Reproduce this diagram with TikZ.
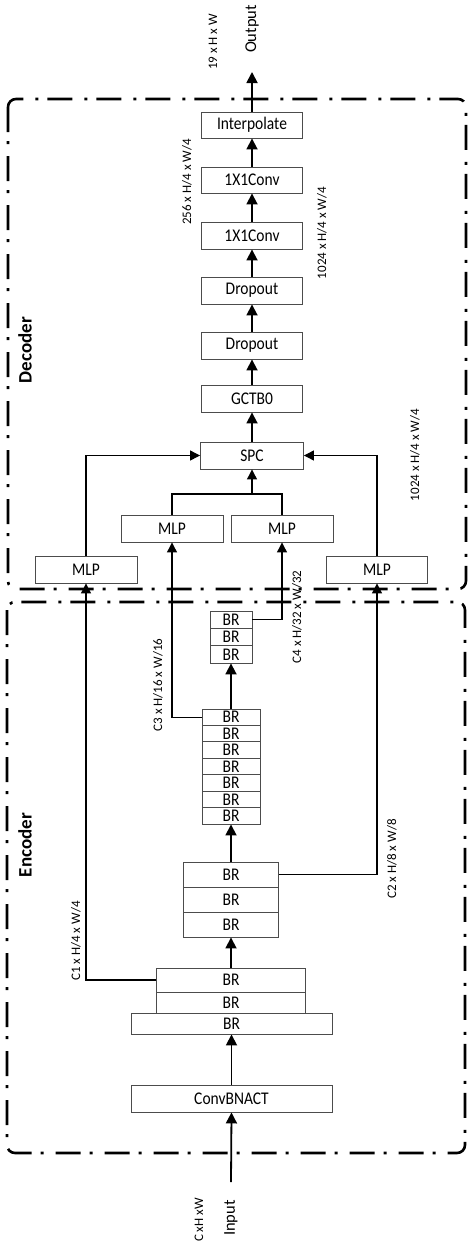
\documentclass[tikz,border=0pt]{standalone}
\usepackage{fontspec}
\setmainfont{Carlito}
\usetikzlibrary{arrows.meta}
\newcommand{\tall}[1]{\scalebox{1}[1.15]{#1}}
\begin{document}
\begin{tikzpicture}[x=1pt,y=-1pt,
  box/.style={draw=black!70, line width=0.9pt, fill=white, inner sep=0pt, anchor=center,
    font=\fontsize{15.5}{16}\selectfont},
  lab/.style={rotate=90, font=\fontsize{13}{13}\selectfont, inner sep=0pt},
  ttl/.style={rotate=90, font=\bfseries\fontsize{19}{19}\selectfont, inner sep=0pt},
  main/.style={line width=1.8pt, -{Triangle[length=11pt,width=11pt]}},
  side/.style={line width=1.2pt, -{Triangle[length=10pt,width=10pt]}},
  conn/.style={line width=1.2pt},
  frame/.style={line width=2.6pt, dash pattern=on 25pt off 9pt on 3pt off 12pt, rounded corners=8pt}]
\useasboundingbox (0,0) rectangle (474,1247);
% frames
\draw[frame] (8,99) rectangle (466,589);
\draw[frame] (7,602) rectangle (465,1153);
% decoder boxes
\node[box, minimum width=101pt, minimum height=26pt] (interp) at (252,125) {\tall{Interpolate}};
\node[box, minimum width=101pt, minimum height=26pt] (conv1) at (252,180) {\tall{1X1Conv}};
\node[box, minimum width=101pt, minimum height=27pt] (conv2) at (252,235.5) {\tall{1X1Conv}};
\node[box, minimum width=101pt, minimum height=27pt] (drop1) at (252,290.5) {\tall{Dropout}};
\node[box, minimum width=101pt, minimum height=27pt] (drop2) at (252,345.5) {\tall{Dropout}};
\node[box, minimum width=101pt, minimum height=27pt] (gctb) at (252,398.5) {\tall{GCTB0}};
\node[box, minimum width=103pt, minimum height=27pt] (spc) at (252,455.5) {\tall{SPC}};
\node[box, minimum width=102pt, minimum height=27pt] (mlpA) at (86,569.5) {\tall{MLP}};
\node[box, minimum width=102pt, minimum height=27pt] (mlpB) at (172,528.5) {\tall{MLP}};
\node[box, minimum width=102pt, minimum height=27pt] (mlpC) at (282,528.5) {\tall{MLP}};
\node[box, minimum width=101pt, minimum height=27pt] (mlpD) at (377,569.5) {\tall{MLP}};
% encoder boxes
\foreach \i/\y in {1/619.7,2/637,3/654.3}
  \node[box, minimum width=42pt, minimum height=17.33pt] (t\i) at (231,\y) {\tall{BR}};
\foreach \i in {1,...,7}
  \node[box, minimum width=58pt, minimum height=16.43pt] (s\i) at (231,{709+16.43*(\i-0.5)}) {\tall{BR}};
\foreach \i/\y in {1/874.5,2/899.5,3/924.5}
  \node[box, minimum width=95pt, minimum height=25pt] (m\i) at (231,\y) {\tall{BR}};
\node[box, minimum width=149pt, minimum height=24pt] (b1) at (231,980) {\tall{BR}};
\node[box, minimum width=149pt, minimum height=21pt] (b2) at (231,1002.5) {\tall{BR}};
\node[box, minimum width=201pt, minimum height=21pt] (b3) at (231.5,1023.5) {\tall{BR}};
\node[box, minimum width=201pt, minimum height=27pt] (conv) at (231.5,1098.5) {\tall{ConvBNACT}};
% coordinates
\coordinate (out) at (252,72);
\coordinate (in) at (231,1182);
\coordinate (merge) at (252,494);
% decoder connectors
\draw[main] (interp.north) -- (out);
\draw[main] (conv1.north) -- (interp.south);
\draw[main] (conv2.north) -- (conv1.south);
\draw[main] (drop1.north) -- (conv2.south);
\draw[main] (drop2.north) -- (drop1.south);
\draw[main] (gctb.north) -- (drop2.south);
\draw[main] (spc.north) -- (gctb.south);
\draw[side] (mlpA.north) |- (spc.west);
\draw[side] (mlpD.north) |- (spc.east);
\draw[conn] (mlpB.north) |- (merge) -| (mlpC.north);
\draw[side] (merge) -- (spc.south);
% encoder connectors
\draw[side] (t1.east) -| (mlpC.south);
\draw[side] (s1.west) -| (mlpB.south);
\draw[side] (m1.east) -| (mlpD.south);
\draw[side] (b1.west) -| (mlpA.south);
\draw[main] (in) -- (conv.south);
\draw[main] (conv.north) -- (b3.south);
\draw[main] (b1.north) -- (m3.south);
\draw[main] (m1.north) -- (s7.south);
\draw[main] (s1.north) -- (t3.south);
% labels
\node[lab, font=\fontsize{16.5}{16.5}\selectfont] (outl) at (252,29) {Output};
\node[lab] (l19) at (213,42) {19 x H x W};
\node[lab] (l256) at (187,182) {256 x H/4 x W/4};
\node[lab] (l1024a) at (322,233) {1024 x H/4 x W/4};
\node[lab] (l1024b) at (415,455) {1024 x H/4 x W/4};
\node[ttl] (dec) at (25,350) {Decoder};
\node[lab] (lc4) at (297,617) {C4 x H/32 x W/32};
\node[lab] (lc3) at (158,685) {C3 x H/16 x W/16};
\node[ttl] (enc) at (25,845) {Encoder};
\node[lab] (lc2) at (392,859) {C2 x H/8 x W/8};
\node[lab] (lc1) at (76,941) {C1 x H/4 x W/4};
\node[lab, font=\fontsize{16.5}{16.5}\selectfont] (inl) at (231,1218) {Input};
\node[lab] (lcin) at (199,1220) {C xH xW};
\end{tikzpicture}
\end{document}
